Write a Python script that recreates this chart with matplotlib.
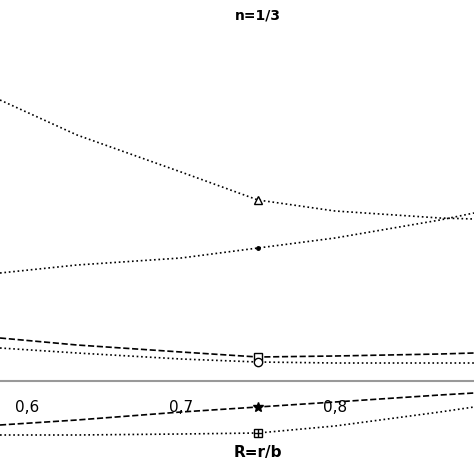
import matplotlib
matplotlib.use("Agg")
import matplotlib.pyplot as plt
import numpy as np

x_px = [0, 77, 181, 258, 335, 440, 474]
def X(p): return 0.6 + (np.array(p) - 27) / 1540
x = X(x_px)
def Y(p): return (381 - np.array(p, dtype=float)) / 100

tri = Y([100, 135, 172, 200, 211, 218, 219])
dot = Y([273, 265, 258, 248, 238, 220, 213])
sq = Y([338, 345, 352, 357, 356, 354, 353])
circ = Y([348, 353, 359, 362, 363, 363, 363])
star = Y([425, 420, 412, 407, 402, 395, 393])
sqp = Y([435, 435, 434, 433, 426, 412, 407])

fig = plt.figure(figsize=(4.74, 4.74), dpi=100)
ax = fig.add_axes([0, 0, 1, 1])
ax.set_xlim(X(0), X(474))
ax.set_ylim(Y(474), Y(0))
for s in ax.spines.values():
    s.set_visible(False)
ax.set_xticks([]); ax.set_yticks([])
ax.axhline(0, color='#999999', lw=1.5)

k = 3
def curve(y, ls, m, **kw):
    ax.plot(x, y, color='black', ls=ls, lw=1.2)
    ax.plot(x[k], y[k], marker=m, color='black', ls='none', **kw)

curve(tri, ':', '^', mfc='white', ms=6)
curve(dot, ':', 'o', ms=2.5)
curve(sq, '--', 's', mfc='white', ms=6)
curve(circ, ':', 'o', mfc='white', ms=6)
curve(star, '--', '*', ms=7)
curve(sqp, ':', 's', mfc='white', ms=6)
ax.plot(x[k], sqp[k], marker='+', color='black', ms=6)

for v, lbl in [(0.6, '0,6'), (0.7, '0,7'), (0.8, '0,8')]:
    ax.text(v, Y(407), lbl, ha='center', va='center', fontsize=11)
ax.text(X(258), Y(452), 'R=r/b', ha='center', va='center', fontsize=11, fontweight='bold')
ax.text(X(258), Y(15), 'n=1/3', ha='center', va='center', fontsize=10, fontweight='bold')
fig.savefig('out.png', dpi=100)
